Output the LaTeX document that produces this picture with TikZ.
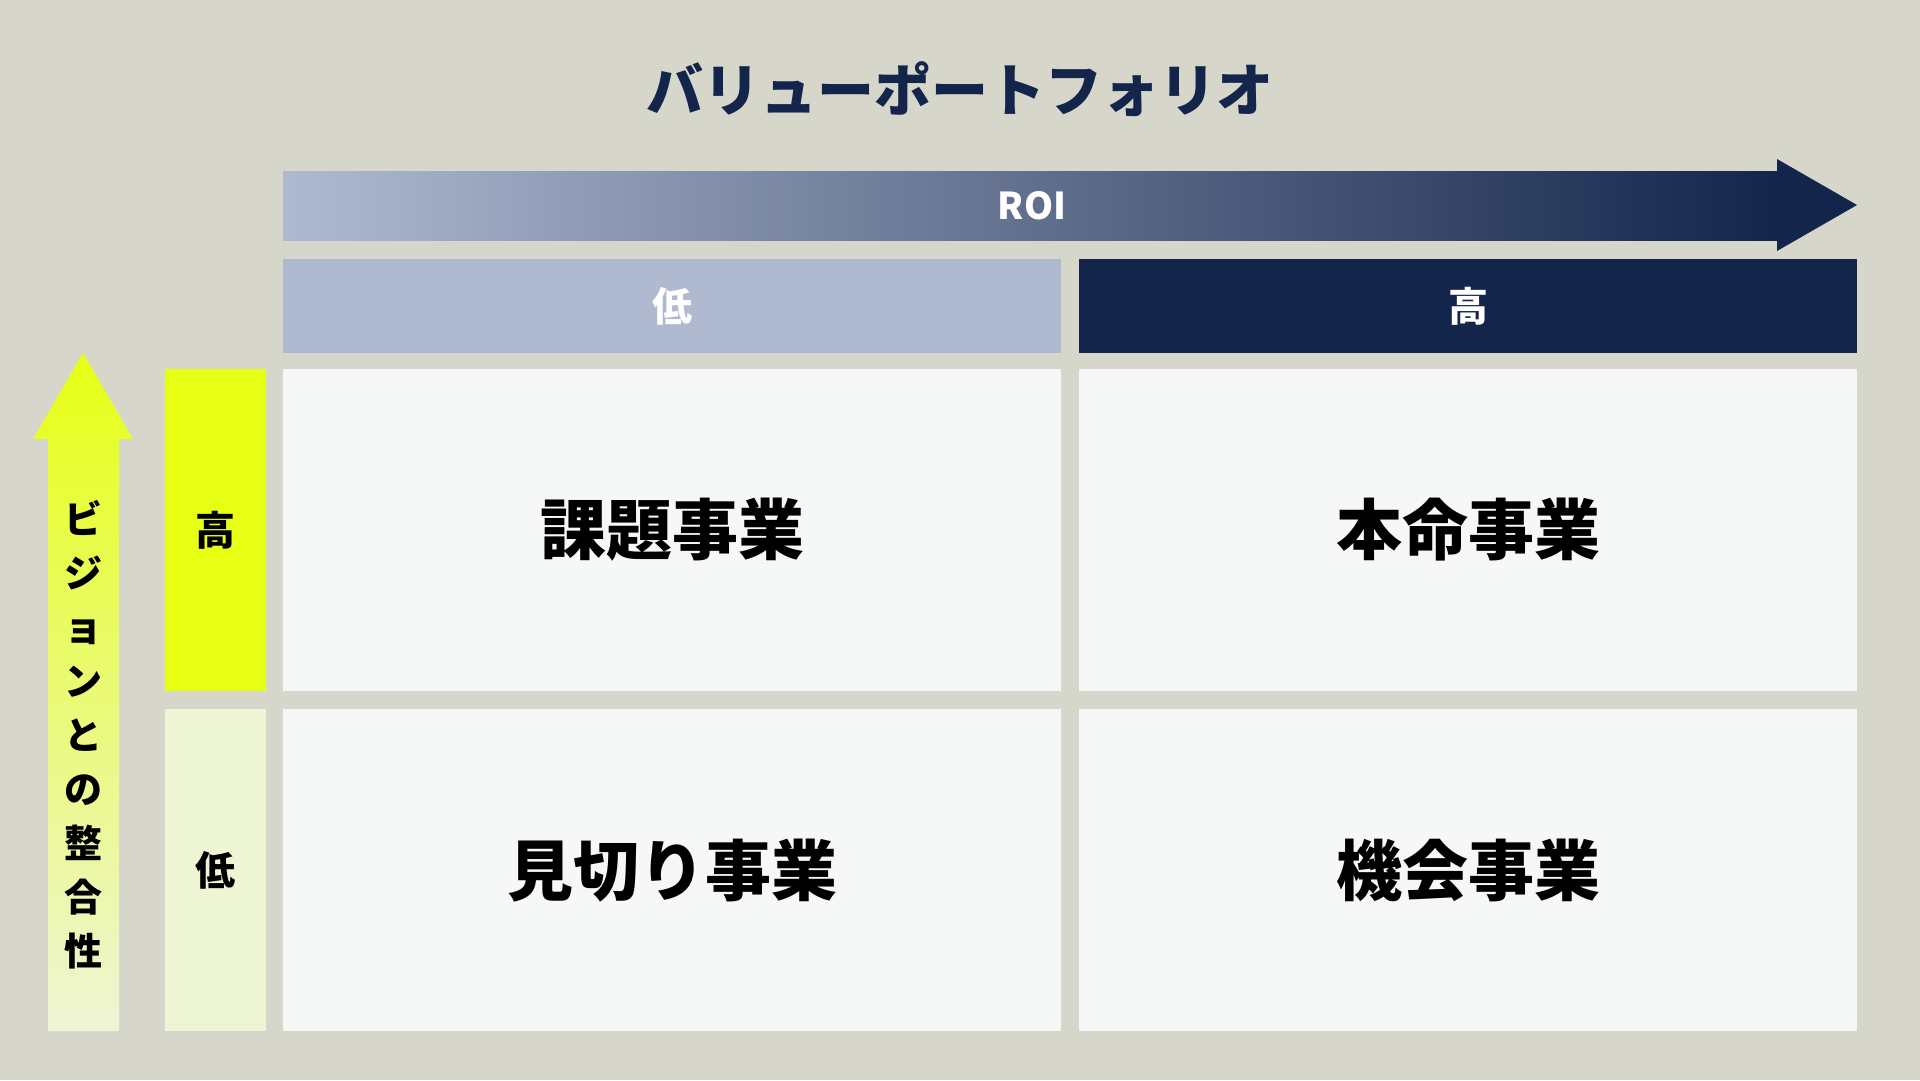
\documentclass[tikz,border=0pt]{standalone}
\usepackage{fontspec}
\setmainfont{Noto Sans CJK JP}
\usetikzlibrary{positioning, calc}
\definecolor{bg}{HTML}{D6D6CB}
\definecolor{navy}{HTML}{14254B}
\definecolor{lowblue}{HTML}{AFBAD1}
\definecolor{cellwhite}{HTML}{F6F8F7}
\definecolor{lime}{HTML}{E6FF14}
\definecolor{palelime}{HTML}{EEF5D5}
\tikzstyle{cell} = [rectangle, fill=cellwhite, inner sep=0pt,
    minimum width=778pt, minimum height=322pt,
    font=\bfseries\fontsize{66}{70}\selectfont]
\tikzstyle{head} = [rectangle, inner sep=0pt,
    minimum width=778pt, minimum height=94pt,
    font=\bfseries\fontsize{40}{44}\selectfont, text=white]
\tikzstyle{rowlabel} = [rectangle, inner sep=0pt,
    minimum width=101pt, minimum height=322pt,
    font=\bfseries\fontsize{40}{44}\selectfont]

\begin{document}
\begin{tikzpicture}[x=1pt, y=-1pt]
   % Background
    \fill[bg] (0,0) rectangle (1920,1080);
   % Title
    \node [text=navy, font=\bfseries\fontsize{57}{60}\selectfont] (title) at (960,89) {バリューポートフォリオ};
   % Axis arrows
    \path [left color=lowblue, right color=navy] (283,171) rectangle (1778,240);
    \fill [navy] (1777,159) -- (1857,205) -- (1777,251) -- cycle;
    \node [text=white, font=\bfseries\fontsize{37}{40}\selectfont] (roi) at (1032,206) {ROI};
    \path [top color=lime, bottom color=palelime]
      (48,1031) -- (48,439) -- (33,439) -- (83,353)
      -- (133,439) -- (119,439) -- (119,1031) -- cycle;
    \node [align=center, font=\bfseries\fontsize{38}{54}\selectfont] (vision) at (83.5,735)
      {ビ\\ジ\\ョ\\ン\\と\\の\\整\\合\\性};
   % Place nodes
    \node [head, fill=lowblue] (roilow) at (672,306) {低};
    \node [head, fill=navy, right=18pt of roilow] (roihigh) {高};
    \node [cell] (kadai) at (672,530) {課題事業};
    \node [cell, right=18pt of kadai] (honmei) {本命事業};
    \node [cell, below=18pt of kadai] (mikiri) {見切り事業};
    \node [cell, right=18pt of mikiri] (kikai) {機会事業};
    \node [rowlabel, fill=lime, left=17pt of kadai] (vishigh) {高};
    \node [rowlabel, fill=palelime, left=17pt of mikiri] (vislow) {低};
  \end{tikzpicture}
\end{document}
